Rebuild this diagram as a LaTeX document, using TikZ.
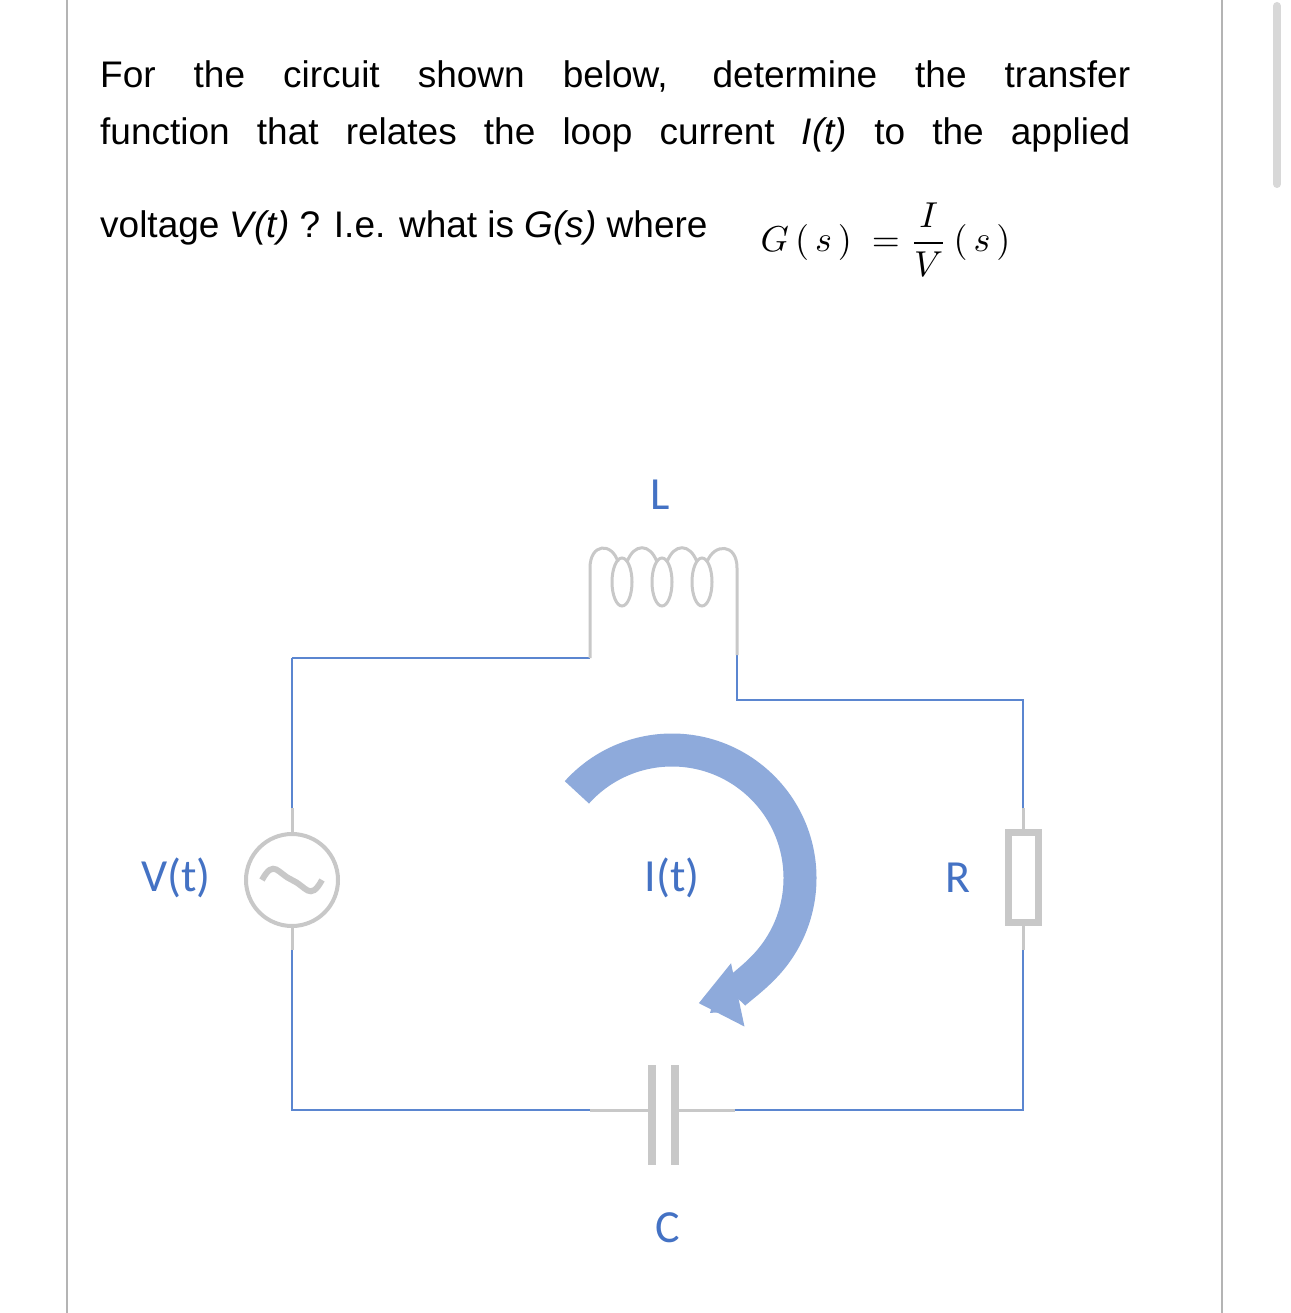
\documentclass[tikz,border=0pt]{standalone}
\usepackage{fontspec}
\setmainfont{Liberation Sans}
\newfontfamily\calib{Carlito}
\usetikzlibrary{arrows.meta}
\definecolor{wire}{HTML}{5B86D0}
\definecolor{comp}{HTML}{C8C8C8}
\definecolor{lab}{HTML}{4472C4}
\definecolor{arc}{HTML}{8EAADB}
\definecolor{frame}{HTML}{B4B4B4}
\tikzset{
  w/.style={draw=wire,line width=2.5pt},
  lbl/.style={text=lab,font=\calib\fontsize{46}{50}\selectfont,inner sep=0pt},
  txt/.style={anchor=base west,inner sep=0pt,font=\fontsize{37}{44}\selectfont}
}
\begin{document}
\begin{tikzpicture}[x=1pt,y=-1pt]
\useasboundingbox (0,0) rectangle (1290,1313);
\fill[white] (0,0) rectangle (1290,1313);
% page frame
\draw[frame,line width=2.5pt] (67,0) -- (67,1313);
\draw[frame,line width=2.5pt] (1222,0) -- (1222,1313);
\draw[comp!70,line width=8pt,line cap=round] (1277,6) -- (1277,184);
% text
\node[txt] (t1) at (100,88) {\makebox[1030pt][s]{For the circuit shown below, determine the transfer}};
\node[txt] (t2) at (100,145) {\makebox[1030pt][s]{function that relates the loop current \textit{I(t)} to the applied}};
\node[txt] (t3) at (100,238) {voltage \textit{V(t)} ? I.e. what is \textit{G(s)} where};
\node[anchor=base west,inner sep=0pt,scale=3.6,transform shape] (eq) at (760,252)
  {$\displaystyle G\,(\,s\,)\; =\frac{I}{V}\,(\,s\,)$};
% coordinates
\coordinate (tl) at (292,658);
\coordinate (Lin) at (590,658);
\coordinate (Lout) at (737,655);
\coordinate (tr1) at (737,700);
\coordinate (tr) at (1023,700);
\coordinate (br) at (1023,1110);
\coordinate (bl) at (292,1110);
% source
\node[circle,draw=comp,line width=4pt,minimum size=92pt,inner sep=0pt] (src) at (292,880) {};
\draw[comp,line width=6pt] ([xshift=-30pt]src.center) .. controls +(12,-22) and +(-14,-6) .. (src.center) .. controls +(14,6) and +(-12,22) .. ([xshift=30pt]src.center);
\draw[w] (tl) -- (292,808);
\draw[comp,line width=3pt] (292,808) -- (src.north);
\draw[comp,line width=3pt] (src.south) -- (292,950);
\draw[w] (292,950) -- (bl) -- (590,1110);
% capacitor
\draw[comp,line width=3pt] (590,1110) -- (652,1110);
\draw[comp,line width=3pt] (675,1110) -- (735,1110);
\draw[comp,line width=8pt] (652,1065) -- (652,1165);
\draw[comp,line width=8pt] (675,1065) -- (675,1165);
\draw[w] (735,1110) -- (br) -- (1023,950);
% resistor
\node[draw=comp,line width=7pt,minimum width=30pt,minimum height=90pt,inner sep=0pt] (res) at (1023,877) {};
\draw[comp,line width=3pt] (1023,950) -- (res.south);
\draw[comp,line width=3pt] (res.north) -- (1023,808);
\draw[w] (1023,808) -- (tr) -- (tr1) -- (Lout);
% inductor
\draw[w] (tl) -- (Lin);
\begin{scope}[comp,line width=3pt]
\draw (Lin) -- (590,568) .. controls (590,543) and (612,542) .. (618,562);
\draw (627,562) .. controls (634,543) and (650,543) .. (657,562);
\draw (667,562) .. controls (674,543) and (690,543) .. (697,562);
\draw (707,562) .. controls (714,543) and (737,543) .. (737,568) -- (Lout);
\draw (622,582) ellipse [x radius=10,y radius=24];
\draw (662,582) ellipse [x radius=10,y radius=24];
\draw (702,582) ellipse [x radius=10,y radius=24];
\end{scope}
% current arrow
\draw[arc,line width=33pt,-{Triangle[length=40pt,width=62pt]}] (672,878) ++(-138:128) arc[start angle=-138,end angle=78,radius=128];
% labels
\node[lbl] (lL) at (660,495) {L};
\node[lbl] (lV) at (176,878) {V(t)};
\node[lbl] (lI) at (672,878) {I(t)};
\node[lbl] (lR) at (958,878) {R};
\node[lbl] (lC) at (668,1228) {C};
\end{tikzpicture}
\end{document}
